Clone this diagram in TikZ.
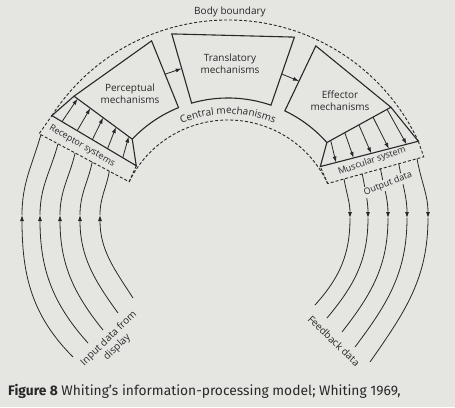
\documentclass[tikz,border=0pt]{standalone}
\usepackage{fontspec}
\setmainfont{Open Sans}
\newfontfamily\capfont{Fira Sans}
\usetikzlibrary{arrows.meta,calc,decorations.text}

\definecolor{carta}{RGB}{229,229,226}
\definecolor{inchiostro}{RGB}{40,40,40}
\newcommand{\fontcentro}{\fontsize{10}{12}\selectfont}
\newcommand{\fontpiccolo}{\fontsize{9}{11}\selectfont}

\begin{document}
\begin{tikzpicture}[x=1pt,y=1pt,
    linea/.style={draw=inchiostro, line width=1.1pt},
    tratteggio/.style={draw=inchiostro, line width=0.9pt, dash pattern=on 3pt off 2pt},
    flusso/.style={draw=inchiostro, line width=0.8pt},
    punta/.style={-{Latex[length=6pt,width=4pt]}},
    etichetta/.style={text=inchiostro, font=\fontcentro, align=center, inner sep=1pt},
    striscia/.style={text=inchiostro, font=\fontpiccolo, inner sep=0pt}]
    % Sfondo
    \fill[carta] (-228,-177) rectangle (227,230);
    \useasboundingbox (-228,-177) rectangle (227,230);
    % Punti
    \coordinate (R1) at (147:210pt);
    \coordinate (R2) at (145:112pt);
    \coordinate (R3) at (154:110pt);
    \coordinate (R4) at (153:212pt);
    \coordinate (M1) at (25:210pt);
    \coordinate (M2) at (34.5:112pt);
    \coordinate (M3) at (25:110pt);
    \coordinate (M4) at (20.5:209pt);
    % Blocchi
    \draw[linea] (112:204pt) -- (139:204pt) coordinate (D1) -- (136.5:132pt) coordinate (D2)
        arc[start angle=136.5, end angle=112, radius=132pt] -- cycle;
    \draw[linea] (106:204pt) -- (71:204pt) -- (71:132pt)
        arc[start angle=71, end angle=106, radius=132pt] -- cycle;
    \draw[linea] (64.5:204pt) -- (37:204pt) coordinate (E1) -- (41.5:132pt) coordinate (E2)
        arc[start angle=41.5, end angle=64.5, radius=132pt] -- cycle;
    \draw[linea] (D1) -- (R1) -- (R2) -- (D2);
    \draw[linea] (E1) -- (M1) -- (M2) -- (E2);
    \draw[tratteggio] (R2) -- (R3) -- (R4) -- (R1);
    \draw[tratteggio] (M1) -- (M4) -- (M3) -- (M2);
    % Archi
    \draw[tratteggio] (R1) arc[start angle=147, end angle=25, radius=210pt];
    \draw[tratteggio] (R3) arc[start angle=154, end angle=25, radius=110pt];
    % Frecce
    \draw[flusso,punta] (112:168pt) -- (106:168pt);
    \draw[flusso,punta] (71:165pt) -- (64.5:165pt);
    \foreach \tb/\td in {0.16/0.06, 0.34/0.28, 0.52/0.50, 0.70/0.72, 0.88/0.94} {
        \draw[flusso,punta] ($(R2)!\tb!(R1)$) -- ($(D2)!\td!(D1)$);
        \draw[flusso,punta] ($(E2)!\td!(E1)$) -- ($(M2)!\tb!(M1)$);
    }
    % Ingresso
    \foreach \t/\ax/\ex/\ey/\uo/\ui [count=\i] in {0.02/-206/-155/-127/135/254, 0.21/-188/-140/-113/132/255,
            0.40/-168/-125/-100/129/257, 0.59/-148/-110/-83/126/258, 0.78/-128/-95/-68/123/260} {
        \coordinate (s\i) at ($(R4)!\t!(R3)$);
        \coordinate (a\i) at (\ax,15);
        \coordinate (e\i) at (\ex,\ey);
        \draw[flusso,punta] (e\i) to[out=\uo,in=-90] (a\i);
        \draw[flusso] (a\i) to[out=90,in=\ui] (s\i);
    }
    % Ritorno
    \foreach \t/\bx/\gx/\gy/\gi [count=\i] in {0.17/122/87/-75/48, 0.36/140/99/-88/50,
            0.55/160/114/-102/52, 0.74/179/127/-117/53, 0.93/200/142/-132/55} {
        \coordinate (f\i) at ($(M3)!\t!(M4)$);
        \coordinate (b\i) at (\bx,12);
        \coordinate (g\i) at (\gx,\gy);
        \draw[flusso,punta] (f\i) to[out=-80,in=90] (b\i);
        \draw[flusso] (b\i) to[out=-90,in=\gi] (g\i);
    }
    % Testi
    \node[etichetta] (corpo) at (2,218) {Body boundary};
    \node[etichetta] (percettivo) at (-98,136) {Perceptual\\mechanisms};
    \node[etichetta] (traslatorio) at (2,166) {Translatory\\mechanisms};
    \node[etichetta] (effettore) at (112,129) {Effector\\mechanisms};
    \node[striscia, rotate=-30] (recettori) at (-146,84) {Receptor systems};
    \node[striscia, rotate=19] (muscoli) at (144,69) {Muscular system};
    \node[striscia, rotate=21, fill=carta, inner sep=1pt] (uscita) at (160,46) {Output data};
    \node[etichetta, rotate=44] (ingresso) at (-115,-113) {Input data from\\display};
    \node[etichetta, rotate=-44] (ritorno) at (106,-111) {Feedback data};
    \path[decorate, decoration={text along path, text color=inchiostro,
        text={|\fontcentro|Central mechanisms}, text align=center}]
        (113:116pt) arc[start angle=113, end angle=67, radius=116pt];
    \node[anchor=base west, inner sep=0pt, text=inchiostro, font=\capfont\fontsize{13.8}{16}\selectfont]
        (didascalia) at (-220,-165) {\textbf{Figure 8} Whiting’s information-processing model; Whiting 1969,};
\end{tikzpicture}
\end{document}
